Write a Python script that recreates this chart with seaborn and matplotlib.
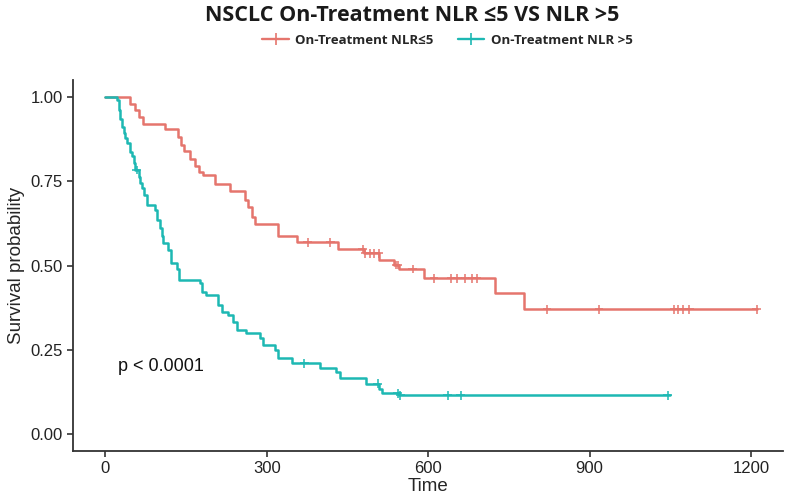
import matplotlib
matplotlib.use("Agg")
import matplotlib.pyplot as plt
from matplotlib.lines import Line2D
import numpy as np
import pandas as pd
import seaborn as sns

# --------------------
# Kaplan-Meier steps (time of drop, survival after drop)
low_times = [0, 46, 55, 63, 70, 111, 135, 140, 146, 158, 166, 175, 181, 204, 231,
             259, 266, 272, 278, 320, 357, 432, 480, 509, 537, 545, 593, 725, 778, 1210]
low_surv = [1.0, 0.98, 0.96, 0.94, 0.92, 0.905, 0.88, 0.858, 0.84, 0.815, 0.796, 0.778,
            0.769, 0.741, 0.72, 0.695, 0.672, 0.645, 0.622, 0.587, 0.569, 0.549, 0.536,
            0.516, 0.501, 0.489, 0.462, 0.417, 0.37, 0.37]
low_censor = [376, 418, 478, 483, 491, 499, 508, 540, 543, 571, 611, 642, 654, 668,
              682, 690, 821, 917, 1057, 1065, 1074, 1085, 1210]

high_times = [0, 22, 25, 28, 31, 34, 37, 40, 46, 49, 53, 56, 62, 65, 68, 71, 77, 92, 96,
              101, 105, 108, 117, 122, 133, 137, 176, 179, 188, 210, 216, 228, 238, 244,
              262, 287, 293, 315, 321, 346, 398, 429, 437, 485, 509, 514, 545, 1050]
high_surv = [1.0, 0.99, 0.96, 0.935, 0.912, 0.892, 0.877, 0.862, 0.838, 0.825, 0.803,
             0.783, 0.763, 0.744, 0.73, 0.709, 0.68, 0.665, 0.635, 0.61, 0.586, 0.566,
             0.546, 0.507, 0.49, 0.457, 0.447, 0.422, 0.412, 0.383, 0.363, 0.353, 0.333,
             0.309, 0.301, 0.284, 0.264, 0.249, 0.225, 0.21, 0.195, 0.185, 0.165, 0.15,
             0.135, 0.121, 0.115, 0.115]
high_censor = [58, 370, 506, 543, 548, 636, 660, 1045]

groups = ["On-Treatment NLR\u22645", "On-Treatment NLR >5"]
colors = ["#E5756D", "#1DB8B3"]

x_ticks = [0, 300, 600, 900, 1200]
y_ticks = [0.0, 0.25, 0.5, 0.75, 1.0]

steps = pd.concat([
    pd.DataFrame({"time": low_times, "surv": low_surv, "group": groups[0]}),
    pd.DataFrame({"time": high_times, "surv": high_surv, "group": groups[1]}),
])


def level_at(times, surv, t):
  idx = np.searchsorted(times, t, side="right") - 1
  return np.array(surv)[idx]


censors = pd.concat([
    pd.DataFrame({"time": low_censor,
                  "surv": level_at(low_times, low_surv, low_censor),
                  "group": groups[0]}),
    pd.DataFrame({"time": high_censor,
                  "surv": level_at(high_times, high_surv, high_censor),
                  "group": groups[1]}),
])

sns.set_style("white")
plt.rcParams["font.family"] = ["Liberation Sans", "DejaVu Sans"]

fig = plt.figure(figsize=(7.85, 5.0), dpi=100)
ax = fig.add_axes([0.093, 0.098, 0.905, 0.742])

palette = dict(zip(groups, colors))
sns.lineplot(data=steps, x="time", y="surv", hue="group", palette=palette,
             drawstyle="steps-post", estimator=None, linewidth=1.8,
             legend=False, ax=ax)
sns.scatterplot(data=censors, x="time", y="surv", hue="group", palette=palette,
                marker="+", s=38, linewidth=1.1, legend=False, ax=ax, zorder=3)

ax.text(24, 0.2, "p < 0.0001", fontsize=13, ha="left", va="center", color="#111111")

ax.set_xlim(-60, 1260)
ax.set_ylim(-0.05, 1.05)
ax.set_xticks(x_ticks)
ax.set_yticks(y_ticks)
ax.set_yticklabels(["%.2f" % v for v in y_ticks])
ax.set_xlabel("Time", fontsize=13.5, labelpad=1)
ax.set_ylabel("Survival probability", fontsize=13.5, labelpad=4)
ax.tick_params(axis="both", labelsize=12, colors="#222222", length=4.5, width=1.1,
               direction="out", bottom=True, left=True, pad=3)
for side in ["top", "right"]:
  ax.spines[side].set_visible(False)
for side in ["left", "bottom"]:
  ax.spines[side].set_color("#333333")
  ax.spines[side].set_linewidth(1.3)

fig.suptitle("NSCLC On-Treatment NLR \u22645 VS NLR >5", x=0.525, y=0.99,
             fontsize=15.5, fontweight="bold", family=["Open Sans", "DejaVu Sans"],
             color="#1a1a1a")

handles = [Line2D([], [], color=c, marker="+", markersize=8, linewidth=1.7,
                  markeredgewidth=1.2) for c in colors]
fig.legend(handles, groups, loc="center", bbox_to_anchor=(0.57, 0.92), ncol=2,
           frameon=False, handlelength=2.0, columnspacing=1.8, handletextpad=0.5,
           prop={"family": ["Open Sans", "DejaVu Sans"], "weight": "bold", "size": 9.5})

fig.savefig("out.png", dpi=100)
